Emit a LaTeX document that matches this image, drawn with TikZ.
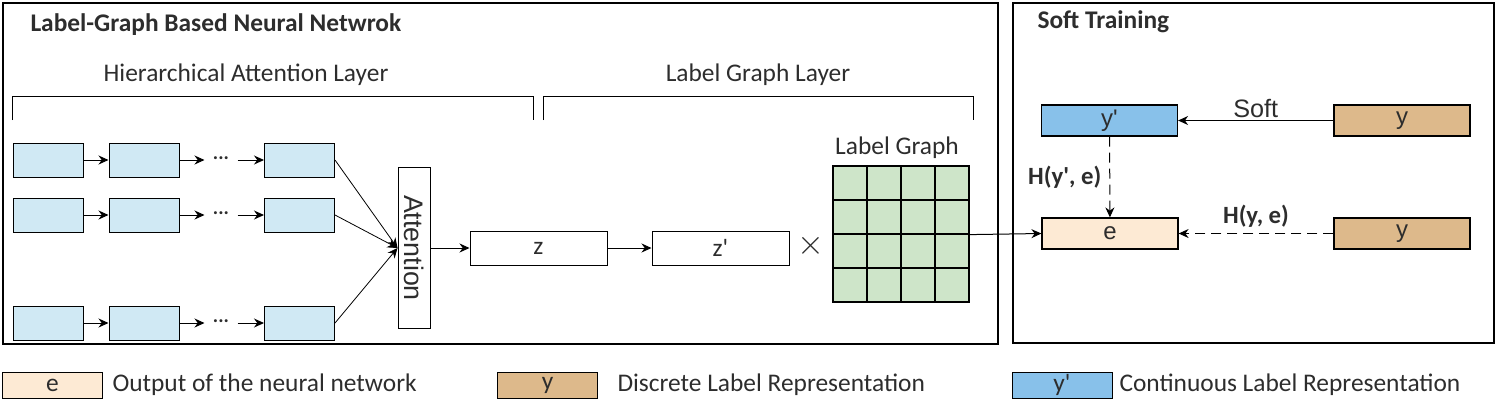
\documentclass[tikz,border=0pt]{standalone}
\usepackage{fontspec}
\setmainfont{Carlito}
\newfontfamily\arialfont{Liberation Sans}
\usetikzlibrary{arrows.meta}
\definecolor{cellblue}{RGB}{208,233,244}
\definecolor{cellgreen}{RGB}{206,229,201}
\definecolor{outpeach}{RGB}{253,234,212}
\definecolor{labeltan}{RGB}{221,185,139}
\definecolor{softblue}{RGB}{136,193,234}
\definecolor{ink}{RGB}{45,45,45}
\newcommand\sq{\textquotesingle}
\begin{document}
\begin{tikzpicture}[x=0.5pt, y=-0.5pt, >={Stealth[length=5pt,width=4.5pt]}, line width=0.5pt, text=ink,
  every node/.style={font=\fontsize{12.7}{14}\selectfont, inner sep=0pt},
  seq box/.style={draw, fill=cellblue, minimum width=35pt, minimum height=17pt},
  vec box/.style={draw, fill=white, minimum width=68.5pt, minimum height=17pt},
  cell/.style={draw, line width=0.6pt, fill=cellgreen, minimum size=17pt},
  lab box/.style={draw, line width=0.6pt, minimum width=68pt, minimum height=15.5pt, font=\arialfont\fontsize{12}{13}\selectfont},
  key box/.style={draw, line width=0.4pt, minimum width=50pt, minimum height=13pt},
  head/.style={font=\fontsize{12.7}{14}\selectfont\bfseries},
  loss/.style={font=\fontsize{12.4}{14}\selectfont\bfseries}]
\useasboundingbox (0,0) rectangle (1498,408);
\draw[line width=0.7pt] (3,3) rectangle (998,344);
\draw[line width=0.7pt] (1013,3) rectangle (1494,343);
\node[head, anchor=west] (t1) at (30,25) {Label-Graph Based Neural Netwrok};
\node[head, anchor=west] (t2) at (1037,22) {Soft Training};

% layer brackets
\node (hal) at (246,75) {Hierarchical Attention Layer};
\node (lgl) at (758,75) {Label Graph Layer};
\draw (12.5,120) -- (12.5,96) -- (533,96) -- (533,120);
\draw (543,120) -- (543,96) -- (973,96) -- (973,120);

% word sequences
\foreach \r/\y in {1/160,2/215,3/323} {
  \node[seq box] (s\r a) at (48,\y) {};
  \node[seq box] (s\r b) at (144,\y) {};
  \node[minimum width=16pt, font=\fontsize{10}{10}\selectfont\bfseries] (s\r d) at (221,\y) {\raisebox{2pt}{...}};
  \node[seq box] (s\r c) at (299.5,\y) {};
  \draw[->] (s\r a) -- (s\r b);
  \draw[->] (s\r b) -- (s\r d);
  \draw[->] (s\r d) -- (s\r c);
}
\node[draw, fill=white, rotate=-90, minimum width=80.5pt, minimum height=16pt, font=\arialfont\fontsize{13.4}{14}\selectfont] (att) at (414,248) {Attention};
\foreach \r in {1,2,3}
  \draw[->, line width=0.4pt] (s\r c.east) -- (att.south);

\node[vec box] (z) at (538.5,248) {z};
\node[vec box] (zp) at (720.5,248) {z\sq};
\draw[->] (att.north) -- (z.west);
\draw[->] (z) -- (zp);
\node[font=\fontsize{16}{16}\selectfont] (times) at (811,246) {$\times$};

% label graph
\foreach \i in {0,...,3}
  \foreach \j in {0,...,3}
    \node[cell] (g\i\j) at (850+34*\i,183+34*\j) {};
\node (lg) at (897,148) {Label Graph};

% soft training
\node[lab box, fill=softblue] (yp) at (1109.5,120.5) {y\sq};
\node[lab box, fill=labeltan] (ytop) at (1402,120.5) {y};
\node[lab box, fill=outpeach] (e) at (1110,233.5) {e};
\node[lab box, fill=labeltan] (ybot) at (1402,233.5) {y};
\draw[->] (g31.south east) -- (e.west);
\draw[->] (ytop) -- node[above=1pt, font=\arialfont\fontsize{12.6}{14}\selectfont] {Soft} (yp);
\draw[->, dashed, dash pattern=on 5pt off 3pt] (yp) -- node[left=4pt, loss] {H(y\sq, e)} (e);
\draw[->, dashed, dash pattern=on 5pt off 3pt] (ybot) -- node[above=3pt, loss] {H(y, e)} (e);

% legend
\node[key box, fill=outpeach] (ke) at (52.5,385) {e};
\node[anchor=west] (ke t) at (112,385) {Output of the neural network};
\node[key box, fill=labeltan] (ky) at (547.5,385) {y};
\node[anchor=west] (ky t) at (617,385) {Discrete Label Representation};
\node[key box, fill=softblue] (kyp) at (1062,385) {y\sq};
\node[anchor=west] (kyp t) at (1119,385) {Continuous Label Representation};
\end{tikzpicture}
\end{document}
